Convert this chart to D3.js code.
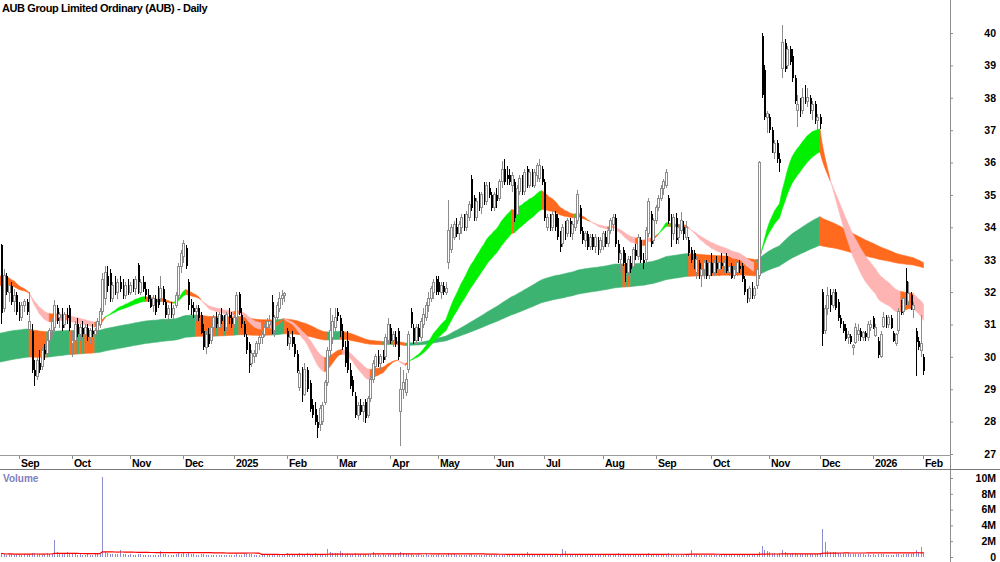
<!DOCTYPE html>
<html>
<head>
<meta charset="utf-8">
<script src="https://cdn.jsdelivr.net/npm/d3@7"></script>
<style>
  body { margin: 0; background: #fff; }
  svg { display: block; font-family: "Liberation Sans", Arial, sans-serif; }
</style>
</head>
<body>
<div id="chart"></div>
<script>
// AUB daily chart - candles, two EMA ribbons and volume

const width = 1000;
const height = 562;

const title = "AUB Group Limited Ordinary (AUB) - Daily";
const firstDay = "2024-08-22";
const holidays = ["2024-12-25","2024-12-26","2025-01-01","2025-01-27","2025-04-18","2025-04-21",
  "2025-04-25","2025-06-09","2025-12-25","2025-12-26","2026-01-01","2026-01-26"];
const monthNames = ["Jan","Feb","Mar","Apr","May","Jun","Jul","Aug","Sep","Oct","Nov","Dec"];
const priceTicks = [27,28,29,30,31,32,33,34,35,36,37,38,39,40];
const volTicks = [0,2,4,6,8,10];   // millions

// one row per month (Aug-24 part, Sep-24 ... Jan-26, Feb-26)
const opens = [
  33.45,31.5,32.5,32.0,32.2,31.7,31.9,
  31.4,31.2,31.6,31.7,30.85,30.8,29.6,29.4,29.8,29.7,30.2,30.1,30.5,30.8,30.9,31.5,31.2,31.3,31.0,31.3,31.5,
  30.4,30.5,31.0,30.7,30.9,30.7,30.9,30.6,30.8,30.7,30.8,31.0,31.4,31.8,32.5,32.6,31.8,32.2,32.0,32.3,32.1,31.9,32.2,
  32.0,32.2,32.1,32.85,32.0,32.3,32.1,31.9,31.8,31.6,31.8,32.1,31.8,32.1,31.7,31.3,31.5,31.3,31.6,31.9,32.8,
  33.1,33.35,32.3,31.6,31.5,31.4,31.5,31.3,30.8,30.3,30.7,30.5,30.9,31.2,30.9,31.3,31.1,30.9,31.3,31.2,
  31.0,31.2,31.95,31.3,31.0,30.6,30.4,29.8,30.0,30.1,30.4,30.6,30.7,30.9,31.0,31.7,30.8,31.2,31.5,31.8,31.9,
  30.8,30.4,30.6,30.4,30.1,29.05,29.6,28.85,29.6,29.2,28.5,28.4,28.0,27.9,28.0,28.6,29.2,30.2,30.6,30.9,
  31.4,31.2,30.8,30.3,30.5,29.6,29.3,28.8,28.2,28.5,28.3,28.6,28.2,28.7,29.3,29.7,30.0,29.8,30.0,30.0,30.5,
  30.9,30.5,30.6,30.8,28.3,29.0,28.9,29.6,31.4,30.9,30.5,30.9,30.6,31.0,31.2,31.6,31.8,32.0,32.4,
  32.3,32.0,32.2,32.0,32.9,33.3,33.7,34.0,33.8,34.0,34.3,34.0,34.3,35.5,34.9,34.3,34.8,34.6,35.3,34.8,35.2,35.0,
  34.6,35.0,34.9,35.4,35.8,35.6,35.6,35.3,35.4,34.4,35.1,35.5,35.1,35.8,35.3,35.7,35.3,35.6,35.5,35.8,
  35.4,34.0,34.2,34.0,34.4,34.3,33.8,33.5,34.0,33.8,34.2,33.8,34.0,34.2,34.6,33.9,33.6,33.8,33.4,33.7,33.4,33.6,33.3,
  33.4,33.7,33.5,33.9,34.1,34.3,33.5,33.0,33.3,32.9,32.6,32.9,32.8,33.3,33.1,33.6,33.0,33.0,33.8,34.4,33.6,
  34.2,34.6,34.9,35.2,35.3,34.9,34.3,33.8,34.3,33.7,33.9,34.0,33.7,33.6,33.3,33.2,32.6,32.9,32.5,32.7,32.9,32.5,
  32.9,32.6,32.9,32.7,32.9,32.8,33.1,32.6,32.8,32.5,32.6,32.8,32.8,32.4,32.0,31.8,32.0,31.9,32.2,32.5,39.9,38.85,37.4,
  37.4,37.0,36.3,36.6,36.1,38.9,39.7,39.0,39.5,39.3,38.6,37.6,37.8,37.6,38.0,37.9,38.0,37.6,37.8,37.3,
  37.4,32.0,30.8,31.5,31.9,31.6,32.0,31.7,31.2,31.0,30.9,30.6,30.65,30.3,30.45,30.7,30.8,30.6,30.75,30.6,30.9,
  31.2,30.65,30.5,30.0,30.95,31.2,31.0,31.2,30.75,30.4,30.8,31.65,31.4,32.35,31.7,31.9,31.45,30.8,30.5,30.2,
  30.0
];
const highs = [
  33.5,32.7,32.6,32.4,32.3,32.1,32.0,
  31.7,31.7,31.8,31.8,32.0,31.0,29.9,30.0,30.2,30.3,30.4,30.6,30.9,31.2,31.75,31.6,31.4,31.5,31.4,31.5,31.6,
  30.8,31.1,31.2,31.0,31.1,31.0,31.0,30.9,31.0,30.9,31.2,31.5,32.6,32.8,32.8,32.7,32.3,32.5,32.4,32.5,32.4,32.3,32.4,
  32.3,32.4,32.5,32.9,32.4,32.5,32.3,32.1,31.9,31.9,31.9,32.2,32.5,32.2,31.8,31.6,31.7,31.6,32.0,32.9,33.3,
  33.6,33.45,32.4,31.8,31.7,31.6,31.6,31.4,31.0,30.8,30.9,31.0,31.3,31.4,31.4,31.5,31.3,31.4,31.5,31.4,
  31.3,32.0,32.0,31.5,31.1,30.7,30.45,30.2,30.2,30.5,30.7,30.8,31.0,31.2,31.3,31.9,31.3,31.7,32.0,32.06,32.0,
  30.9,30.7,30.8,30.6,30.2,29.6,29.7,29.8,29.7,29.3,28.7,28.6,28.2,28.5,28.6,29.3,30.3,31.5,31.3,31.5,
  31.5,31.3,31.0,30.5,30.8,29.8,29.4,28.9,28.6,28.7,28.6,28.7,28.8,29.4,29.9,30.1,30.2,30.1,30.2,30.7,31.2,
  31.0,30.8,30.8,30.9,29.7,29.6,29.5,30.8,31.5,31.0,31.0,31.0,31.2,31.5,31.7,32.0,32.2,32.4,32.5,
  32.5,32.3,32.3,32.3,34.85,34.1,34.2,34.3,34.2,34.4,34.4,34.5,34.8,35.6,35.0,34.9,35.1,35.1,35.4,35.4,35.4,35.1,
  35.1,35.2,35.5,36.05,36.1,35.9,35.8,35.7,35.5,35.3,35.6,35.6,35.8,35.9,35.8,35.8,35.8,36.0,36.1,35.9,
  35.5,34.4,34.4,34.5,34.5,34.4,33.9,34.1,34.2,34.3,34.3,34.2,34.4,35.15,34.7,34.0,33.9,33.9,33.8,33.8,33.8,33.7,33.7,
  33.9,33.9,34.0,34.3,34.4,34.4,33.6,33.3,33.4,33.2,33.1,33.1,33.4,33.5,33.8,33.7,33.2,34.0,34.9,34.5,34.3,
  34.7,35.0,35.3,35.5,35.8,35.0,34.4,34.4,34.45,34.1,34.47,34.2,34.2,33.7,33.4,33.3,33.1,33.0,32.8,33.0,33.0,33.0,
  33.2,33.0,33.1,33.0,33.2,33.0,33.2,32.9,32.9,32.8,33.0,33.0,32.9,32.5,32.1,32.2,32.3,32.2,32.8,36.05,40.0,39.0,37.6,
  37.5,37.1,36.7,36.7,36.3,40.25,39.8,39.6,39.6,39.5,38.7,38.1,38.0,38.3,38.4,38.3,38.1,37.9,37.9,37.5,
  37.5,32.1,31.6,32.15,32.1,32.1,32.1,31.8,31.3,31.1,31.0,30.8,30.7,30.4,31.05,31.0,30.9,30.8,30.8,31.1,31.15,
  31.25,31.0,30.6,30.8,31.4,31.3,31.3,31.3,30.8,30.75,31.5,31.75,31.9,32.75,32.3,32.0,31.7,30.9,30.6,31.3,
  30.1
];
const lows = [
  31.0,31.4,31.9,31.7,31.6,31.4,31.3,
  31.1,31.1,31.4,31.3,30.8,29.5,29.1,29.3,29.5,29.6,29.9,30.0,30.3,30.6,30.8,31.0,30.9,30.8,30.9,31.0,30.8,
  30.0,30.4,30.6,30.5,30.6,30.4,30.5,30.4,30.6,30.4,30.7,30.9,31.3,31.6,32.0,31.7,31.7,31.9,31.8,32.0,31.8,31.8,31.9,
  31.9,32.0,31.9,31.95,31.9,32.0,31.8,31.7,31.5,31.4,31.3,31.5,31.7,31.6,31.2,31.1,31.2,31.1,31.5,31.8,32.6,
  32.9,32.7,31.45,31.3,31.2,31.1,31.1,30.7,30.2,30.1,30.3,30.4,30.8,30.9,30.8,31.0,30.8,30.8,31.0,30.9,
  30.9,31.1,31.3,30.9,30.6,30.1,29.5,29.7,29.8,30.0,30.2,30.4,30.6,30.8,30.9,30.7,30.6,31.0,31.4,31.6,31.7,
  30.35,30.2,30.3,30.0,29.5,28.95,28.6,28.8,28.9,28.3,28.1,27.9,27.5,27.7,27.9,28.5,29.1,30.0,30.4,30.7,
  31.1,30.6,30.2,29.7,29.5,29.0,28.8,28.1,28.05,28.2,28.0,27.95,28.1,28.6,29.2,29.5,29.7,29.6,29.8,29.9,30.4,
  30.4,30.3,30.3,29.9,27.25,28.7,28.8,29.5,30.9,30.4,30.4,30.5,30.5,30.9,31.1,31.4,31.7,31.8,31.9,
  31.9,31.8,31.9,31.9,32.7,33.2,33.6,33.7,33.6,33.8,33.9,33.9,34.2,34.5,34.2,34.2,34.5,34.4,34.7,34.7,34.9,34.5,
  34.5,34.6,34.8,35.2,35.3,35.3,35.3,35.1,34.15,34.3,35.0,35.0,35.0,35.2,35.2,35.25,35.2,35.4,35.4,35.3,
  34.2,33.9,33.9,33.9,33.9,33.6,33.25,33.4,33.6,33.7,33.7,33.6,33.9,34.1,33.8,33.5,33.4,33.3,33.3,33.3,33.2,33.15,33.2,
  33.3,33.4,33.4,33.8,33.9,33.4,32.9,32.6,32.8,32.3,32.5,32.6,32.7,33.0,33.0,32.9,32.7,32.9,33.7,33.4,33.5,
  34.1,34.5,34.8,35.0,35.2,34.1,33.4,33.6,33.5,33.5,33.8,33.6,33.6,33.1,32.9,32.7,32.4,32.4,32.15,32.4,32.4,32.4,
  32.5,32.5,32.6,32.5,32.7,32.6,32.6,32.5,32.4,32.4,32.5,32.6,32.3,31.9,31.65,31.7,31.8,31.8,32.1,32.4,38.0,37.3,36.9,
  36.9,36.3,36.1,36.0,35.7,38.6,38.8,38.9,39.0,38.5,37.8,37.1,37.4,37.5,37.8,37.7,37.5,37.3,37.2,37.0,
  37.05,30.35,30.7,31.3,31.4,31.5,31.45,31.1,30.9,30.75,30.5,30.4,30.4,30.05,30.4,30.5,30.5,30.5,30.5,30.5,30.8,
  30.85,30.6,29.95,29.95,30.9,30.9,30.9,30.85,30.45,30.35,30.7,31.3,31.3,31.6,31.6,31.45,31.2,29.4,30.2,30.0,
  29.45
];
const closes = [
  31.35,32.5,32.0,32.2,31.7,31.9,31.4,
  31.2,31.6,31.7,31.4,31.1,29.6,29.4,29.9,29.6,30.2,30.1,30.5,30.8,31.1,31.6,31.1,31.3,30.9,31.3,31.2,30.9,
  30.5,31.0,30.7,30.9,30.7,30.9,30.6,30.8,30.7,30.8,31.1,31.4,32.4,32.6,32.2,31.8,32.2,32.0,32.3,32.1,31.9,32.2,32.0,
  32.2,32.1,32.4,32.0,32.3,32.1,31.9,31.8,31.55,31.8,31.4,31.6,32.1,31.7,31.3,31.5,31.3,31.5,31.9,32.8,33.2,
  33.5,32.8,31.6,31.5,31.4,31.5,31.2,30.75,30.3,30.7,30.4,30.9,31.2,31.0,31.3,31.1,30.9,31.3,31.2,31.0,
  31.2,31.9,31.35,31.0,30.7,30.2,29.75,30.1,30.1,30.4,30.6,30.7,30.9,31.1,31.1,30.8,31.2,31.6,31.8,31.9,31.95,
  30.4,30.6,30.4,30.1,29.55,29.5,28.85,29.6,29.0,28.4,28.2,28.0,27.8,28.4,28.5,29.2,30.2,30.8,31.1,31.2,
  31.25,30.8,30.3,29.8,29.6,29.1,28.9,28.2,28.5,28.3,28.5,28.1,28.7,29.3,29.8,30.0,29.8,30.0,29.9,30.6,31.0,
  30.5,30.7,30.4,30.0,29.0,29.2,29.3,30.7,31.0,30.5,30.9,30.6,31.1,31.3,31.6,31.8,32.1,32.3,32.0,
  32.0,32.2,32.0,32.1,33.9,34.0,34.1,33.8,34.1,34.3,34.0,34.4,34.7,34.6,34.3,34.8,34.6,35.0,34.8,35.3,35.0,34.6,
  35.0,34.8,35.4,35.8,35.4,35.5,35.4,35.6,34.3,35.2,35.5,35.1,35.7,35.3,35.7,35.3,35.7,35.9,35.9,35.4,
  34.3,34.3,34.0,34.4,34.0,33.7,33.4,34.0,33.8,34.2,33.8,34.1,34.3,35.0,33.9,33.6,33.8,33.4,33.7,33.4,33.7,33.3,33.6,
  33.8,33.5,33.9,34.2,34.3,33.5,33.0,33.2,32.9,32.6,33.0,32.7,33.3,33.1,33.7,33.0,32.9,33.9,34.8,33.5,34.2,
  34.6,34.9,35.2,35.4,35.7,34.2,33.8,34.3,33.6,34.0,34.2,33.8,34.0,33.2,33.0,32.8,33.0,32.5,32.7,32.9,32.5,32.9,
  32.6,32.9,32.7,32.9,32.8,32.9,32.65,32.8,32.45,32.7,32.9,32.7,32.4,32.0,31.8,32.1,31.9,32.1,32.7,36.0,38.1,37.4,37.5,
  37.0,36.4,36.6,36.1,36.0,39.7,38.9,39.5,39.1,38.6,37.9,37.8,37.6,38.0,37.9,38.0,37.6,37.8,37.3,37.4,
  37.2,30.7,31.5,31.9,31.6,32.0,31.5,31.2,31.0,30.8,30.55,30.7,30.45,30.35,30.9,30.8,30.6,30.75,30.6,31.0,31.0,
  30.9,30.9,30.05,30.7,31.2,31.0,31.2,30.9,30.5,30.7,31.4,31.35,31.8,31.7,31.95,31.5,31.6,30.45,30.3,30.4,
  29.55
];
// volume in millions of shares
const volumes = [
  0.45,0.38,0.31,0.42,0.36,0.29,0.40,
  0.33,0.28,0.37,0.41,0.35,0.52,0.47,0.39,0.36,0.30,0.34,0.45,0.41,0.38,2.20,0.58,0.44,0.37,0.33,0.61,0.40,
  0.36,0.32,0.29,0.35,0.31,0.28,0.34,0.30,0.27,0.33,0.38,0.42,10.1,0.62,0.48,0.41,0.37,0.35,0.39,0.88,0.44,0.36,0.31,
  0.34,0.30,0.28,0.41,0.33,0.29,0.26,0.31,0.27,0.25,0.30,0.28,0.74,0.36,0.32,0.29,0.27,0.30,0.33,0.45,0.38,
  0.52,0.41,0.48,0.36,0.33,0.30,0.28,0.35,0.42,0.31,0.27,0.29,0.24,0.26,0.22,0.25,0.21,0.19,0.23,0.28,
  0.27,0.33,0.30,0.29,0.35,0.38,0.44,0.32,0.28,0.26,0.25,0.27,0.24,0.26,0.29,0.41,0.33,0.30,0.28,0.31,0.27,
  0.55,0.38,0.34,0.36,0.42,0.48,0.40,0.37,0.45,0.43,0.39,0.47,0.41,0.36,0.38,0.44,1.02,0.62,0.48,0.52,
  0.45,0.76,0.50,0.41,0.47,0.39,0.44,0.52,0.38,0.35,0.41,0.37,0.34,0.40,0.62,0.36,0.33,0.31,0.35,0.30,0.38,
  0.36,0.32,0.34,0.41,0.63,0.45,0.38,0.42,0.35,0.31,0.29,0.33,0.30,0.28,0.32,0.29,0.27,0.31,0.30,
  0.33,0.29,0.31,0.28,0.55,0.39,0.34,0.31,0.29,0.27,0.30,0.28,0.32,0.36,0.31,0.29,0.27,0.30,0.28,0.26,0.29,0.31,
  0.28,0.30,0.27,0.33,0.31,0.29,0.26,0.28,0.35,0.30,0.27,0.25,0.29,0.58,0.31,0.28,0.26,0.30,0.33,0.36,
  0.41,0.35,0.30,0.28,0.31,0.33,0.36,0.98,0.72,0.40,0.33,0.29,0.31,0.38,0.35,0.30,0.27,0.29,0.26,0.28,0.30,0.27,0.25,
  0.28,0.26,0.30,0.27,0.29,0.35,0.45,0.38,0.33,0.40,0.31,0.29,0.34,0.30,0.32,0.36,0.33,0.41,0.52,0.39,0.35,
  0.31,0.29,0.33,0.30,0.36,0.45,0.40,0.34,0.31,0.29,0.33,0.30,0.28,0.35,0.90,0.38,0.33,0.30,0.28,0.31,0.29,0.27,
  0.29,0.27,0.30,0.26,0.28,0.25,0.27,0.24,0.26,0.28,0.25,0.27,0.29,0.33,0.35,0.31,0.30,0.28,0.34,0.62,1.45,0.92,0.70,
  0.58,0.52,0.47,0.44,0.50,0.90,0.61,0.48,0.43,0.45,0.52,0.41,0.38,0.36,0.39,0.35,0.37,0.33,0.40,0.38,
  0.45,3.50,1.92,0.72,0.65,0.58,0.62,0.55,0.50,0.47,0.44,0.48,0.41,0.38,0.36,0.34,0.37,0.33,0.31,0.35,0.30,
  0.33,0.31,0.36,0.34,0.32,0.29,0.31,0.28,0.30,0.33,0.35,0.31,0.38,0.42,0.36,0.40,0.45,0.92,0.58,1.32,
  0.62
];

// ribbon settings: EMA periods and their values at the first bar
const shortPeriods = [25, 40];
const shortSeeds = [32.5, 32.2];
const longPeriods = [150, 250];
const longSeeds = [30.73, 29.84];
const volMaPeriod = 63;

const n = closes.length;

// trading days
const dates = [];
{
  let d = new Date(firstDay + "T00:00:00Z");
  while (dates.length < n) {
    const iso = d.toISOString().slice(0, 10);
    const wd = d.getUTCDay();
    if (wd !== 0 && wd !== 6 && !holidays.includes(iso)) dates.push(new Date(d));
    d.setUTCDate(d.getUTCDate() + 1);
  }
}

function ema(vals, period, seed) {
  const a = 2 / (period + 1);
  const out = [seed];
  for (let i = 1; i < vals.length; i++) out.push(out[i - 1] + a * (vals[i] - out[i - 1]));
  return out;
}

const sFast = ema(closes, shortPeriods[0], shortSeeds[0]);
const sSlow = ema(closes, shortPeriods[1], shortSeeds[1]);
const lFast = ema(closes, longPeriods[0], longSeeds[0]);
const lSlow = ema(closes, longPeriods[1], longSeeds[1]);

const volMa = volumes.map((v, i) => {
  const s = volumes.slice(Math.max(0, i - volMaPeriod + 1), i + 1);
  return d3.mean(s);
});

const GREEN = "#00f000", ORANGE = "#ff6a1e", PINK = "#ffb4b4", DKGREEN = "#3cb371";

const shortColor = closes.map((c, i) => {
  if (c > sFast[i] && sFast[i] > sSlow[i]) return GREEN;
  if (c < sFast[i] && sFast[i] < sSlow[i]) return PINK;
  return ORANGE;
});
const longColor = closes.map((c, i) => (c > lFast[i] && lFast[i] >= lSlow[i]) ? DKGREEN : ORANGE);

// scales
const x = d3.scaleLinear().domain([-0.5, 375.5]).range([0, 950]);
const y = d3.scaleLinear().domain([27, 40]).range([454, 33]);
const yVol = d3.scaleLinear().domain([0, 10]).range([557, 478]);

const svg = d3.select("#chart").append("svg")
  .attr("width", width)
  .attr("height", height)
  .attr("viewBox", [0, 0, width, height]);

// ribbons
function drawBand(a, b, colors) {
  const g = svg.append("g");
  const area = d3.area()
    .x(i => i === 0 ? 0 : x(i))
    .y0(i => y(a[i]))
    .y1(i => y(b[i]));
  let start = 1;
  for (let i = 2; i <= n; i++) {
    if (i === n || colors[i] !== colors[start]) {
      g.append("path")
        .datum(d3.range(start - 1, i))
        .attr("d", area)
        .attr("fill", colors[start])
        .attr("stroke", colors[start])
        .attr("stroke-width", 0.6);
      start = i;
    }
  }
}
drawBand(lFast, lSlow, longColor);
drawBand(sFast, sSlow, shortColor);

// candles
const candles = svg.append("g").attr("shape-rendering", "crispEdges");
d3.range(n).forEach(i => {
  const up = closes[i] >= opens[i];
  const cx = Math.round(x(i)) + 0.5;
  candles.append("line")
    .attr("x1", cx).attr("x2", cx)
    .attr("y1", y(highs[i])).attr("y2", y(lows[i]))
    .attr("stroke", up ? "#8c8c8c" : "#000")
    .attr("stroke-width", 1);
  const top = y(Math.max(opens[i], closes[i]));
  const h = Math.max(1, Math.abs(y(opens[i]) - y(closes[i])));
  if (up) {
    candles.append("rect")
      .attr("x", cx - 1).attr("y", top).attr("width", 2).attr("height", h)
      .attr("fill", "#fff").attr("stroke", "#8c8c8c").attr("stroke-width", 1);
  } else {
    candles.append("rect")
      .attr("x", cx - 1).attr("y", top).attr("width", 2).attr("height", h)
      .attr("fill", "#000");
  }
});

// title
svg.append("text")
  .attr("x", 2).attr("y", 12)
  .attr("font-size", "11px").attr("font-weight", "bold")
  .attr("letter-spacing", "-0.4px")
  .attr("fill", "#000")
  .text(title);

// frame lines
svg.append("line").attr("x1", 950.5).attr("x2", 950.5).attr("y1", 0).attr("y2", height)
  .attr("stroke", "#8c8c8c");
svg.append("line").attr("x1", 0).attr("x2", 951).attr("y1", 455.5).attr("y2", 455.5)
  .attr("stroke", "#9a9a9a");
svg.append("line").attr("x1", 0).attr("x2", width).attr("y1", 469.5).attr("y2", 469.5)
  .attr("stroke", "#777");

// price axis
const yAxis = svg.append("g")
  .attr("transform", "translate(950,0)")
  .call(d3.axisRight(y).tickValues(priceTicks).tickSize(3).tickFormat(d3.format("d")));
yAxis.select(".domain").remove();
yAxis.selectAll(".tick line").attr("stroke", "#8c8c8c");
yAxis.selectAll(".tick text")
  .attr("x", 46).attr("text-anchor", "end")
  .attr("font-size", "10.5px").attr("font-weight", "bold")
  .attr("font-family", "Liberation Sans, Arial, sans-serif")
  .attr("fill", "#000");

// volume axis
const vAxis = svg.append("g")
  .attr("transform", "translate(950,0)")
  .call(d3.axisRight(yVol).tickValues(volTicks).tickSize(3).tickFormat(d => d === 0 ? "0" : d + "M"));
vAxis.select(".domain").remove();
vAxis.selectAll(".tick line").attr("stroke", "#8c8c8c");
vAxis.selectAll(".tick text")
  .attr("x", 46).attr("text-anchor", "end")
  .attr("font-size", "10.5px").attr("font-weight", "bold")
  .attr("font-family", "Liberation Sans, Arial, sans-serif")
  .attr("fill", "#000");

// month ticks along the date strip
const monthStarts = [];
for (let i = 1; i < n; i++) {
  if (dates[i].getUTCMonth() !== dates[i - 1].getUTCMonth()) monthStarts.push(i);
}
monthStarts.push(n); // next month label after the last bar
const dateAxis = svg.append("g");
monthStarts.forEach(i => {
  let label;
  if (i < n) {
    const d = dates[i];
    label = d.getUTCMonth() === 0 ? String(d.getUTCFullYear()) : monthNames[d.getUTCMonth()];
  } else {
    const d = dates[n - 1];
    const m = (d.getUTCMonth() + 1) % 12;
    label = m === 0 ? String(d.getUTCFullYear() + 1) : monthNames[m];
  }
  const tx = Math.round(x(i)) + 0.5;
  if (dates[n - 1] && i === n) return;
  dateAxis.append("line").attr("x1", tx).attr("x2", tx).attr("y1", 456).attr("y2", 459)
    .attr("stroke", "#8c8c8c");
  dateAxis.append("text")
    .attr("x", tx + 1.5).attr("y", 467)
    .attr("font-size", "10.5px").attr("font-weight", "bold")
    .attr("letter-spacing", "-0.3px")
    .attr("fill", "#000")
    .text(label);
});

// volume
svg.append("text")
  .attr("x", 3).attr("y", 482)
  .attr("font-size", "10px").attr("font-weight", "bold")
  .attr("fill", "#8080c0")
  .text("Volume");

svg.append("g").attr("shape-rendering", "crispEdges")
  .selectAll("rect")
  .data(volumes)
  .join("rect")
  .attr("x", (d, i) => Math.round(x(i)))
  .attr("y", d => yVol(d))
  .attr("width", 1)
  .attr("height", d => yVol(0) - yVol(d))
  .attr("fill", "#8c8cd2");

svg.append("path")
  .datum(volMa)
  .attr("d", d3.line().x((d, i) => x(i)).y(d => yVol(d)))
  .attr("fill", "none")
  .attr("stroke", "#ff0000")
  .attr("stroke-width", 1.2);
</script>
</body>
</html>
